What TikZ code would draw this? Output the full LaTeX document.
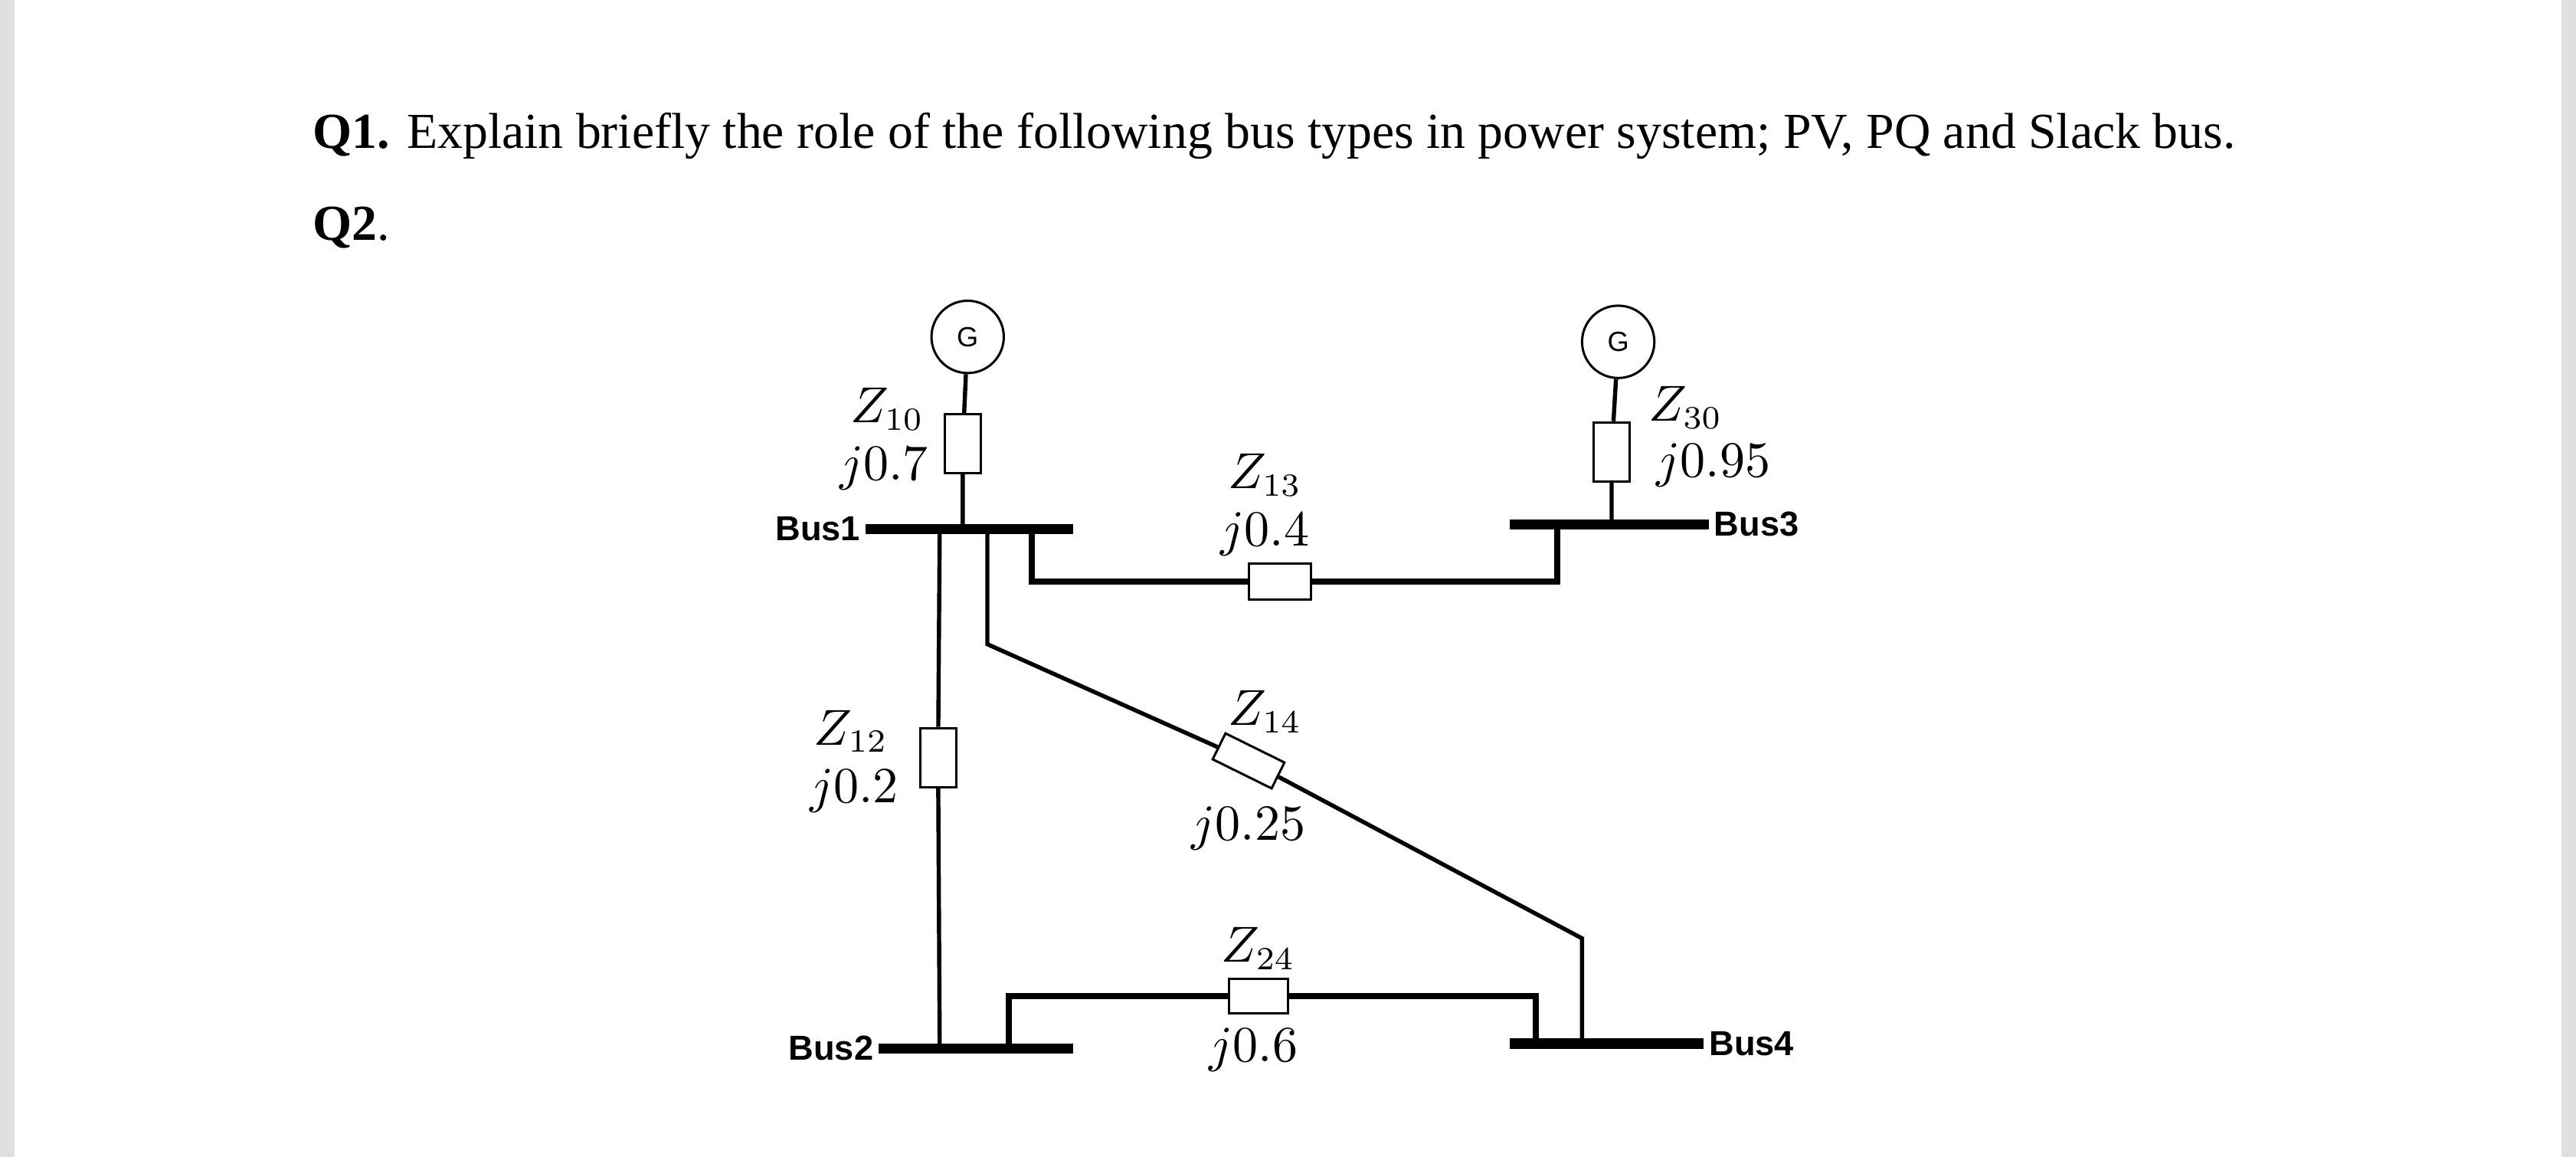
\documentclass[tikz,border=0pt]{standalone}
\usepackage[no-math]{fontspec}
\setmainfont{Liberation Serif}
\newfontfamily\busfont{Liberation Sans}
\begin{document}
\begin{tikzpicture}[x=0.0125cm,y=-0.0125cm,
  wire/.style={line width=0.9pt},
  thick wire/.style={line width=1.3pt},
  bar/.style={line width=2.2pt},
  imp/.style={draw,fill=white,line width=0.5pt,inner sep=0pt,minimum width=0.275cm,minimum height=0.45cm},
  gen/.style={draw,circle,line width=0.5pt,minimum size=0.55cm,inner sep=0pt,font=\busfont\fontsize{6}{7}\selectfont},
  lbl/.style={font=\fontsize{10.5}{12}\selectfont,inner sep=0pt},
  bus/.style={font=\busfont\bfseries\fontsize{7.5}{9}\selectfont,inner sep=1pt}]
\useasboundingbox (0,0) rectangle (1568,704);
\fill[black!12] (0,0) rectangle (9,704);
\fill[black!12] (1559,0) rectangle (1568,704);
% question text
\node[anchor=base west,font=\fontsize{10.9}{13}\selectfont,inner sep=0pt] (q1) at (190,90) {\textbf{Q1.} Explain briefly the role of the following bus types in power system; PV, PQ and Slack bus.};
\node[anchor=base west,font=\fontsize{10.9}{13}\selectfont,inner sep=0pt] (q2) at (190,146) {\textbf{Q2}.};
% buses
\coordinate (b1l) at (527,322); \coordinate (b1r) at (653,322);
\coordinate (b3l) at (919,319); \coordinate (b3r) at (1040,319);
\coordinate (b2l) at (535,638); \coordinate (b2r) at (653,638);
\coordinate (b4l) at (919,635); \coordinate (b4r) at (1037,635);
\draw[bar] (b1l) -- (b1r); \draw[bar] (b3l) -- (b3r);
\draw[bar] (b2l) -- (b2r); \draw[bar] (b4l) -- (b4r);
\node[bus,anchor=east] (n1) at (b1l) {Bus1};
\node[bus,anchor=west] (n3) at (b3r) {Bus3};
\node[bus,anchor=east] (n2) at (b2l) {Bus2};
\node[bus,anchor=west] (n4) at (b4r) {Bus4};
% generators
\node[gen] (g1) at (589,205) {G};
\node[gen] (g3) at (985,208) {G};
\node[imp] (z10) at (586,270) {};
\node[imp] (z30) at (981,275) {};
\draw[wire] (g1) -- (z10) -- (586,322);
\draw[wire] (g3) -- (z30) -- (981,319);
\node[lbl] (l10a) at (540,249) {$Z_{10}$};
\node[lbl] (l10b) at (538,285) {$j0.7$};
\node[lbl] (l30a) at (1026,248) {$Z_{30}$};
\node[lbl] (l30b) at (1043,283) {$j0.95$};
% line 1-3
\node[imp,minimum width=0.475cm,minimum height=0.275cm] (z13) at (779,354) {};
\draw[thick wire] (628,322) -- (628,354) -- (z13) -- (948,354) -- (948,319);
\node[lbl] (l13a) at (770,289) {$Z_{13}$};
\node[lbl] (l13b) at (770,325) {$j0.4$};
% line 1-2
\node[imp] (z12) at (571,461) {};
\draw[wire] (572,322) -- (z12) -- (572,638);
\node[lbl] (l12a) at (518,445) {$Z_{12}$};
\node[lbl] (l12b) at (520,481) {$j0.2$};
% line 1-4
\node[imp,rotate=-26.3,minimum width=0.5cm,minimum height=0.22cm] (z14) at (760,463) {};
\draw[wire] (601,322) -- (601,392) -- (z14) -- (963,571) -- (963,635);
\node[lbl] (l14a) at (770,433) {$Z_{14}$};
\node[lbl] (l14b) at (760,504) {$j0.25$};
% line 2-4
\node[imp,minimum width=0.45cm,minimum height=0.26cm] (z24) at (766,606) {};
\draw[thick wire] (614,638) -- (614,606) -- (z24) -- (935,606) -- (935,635);
\node[lbl] (l24a) at (766,577) {$Z_{24}$};
\node[lbl] (l24b) at (763,639) {$j0.6$};
\end{tikzpicture}
\end{document}
